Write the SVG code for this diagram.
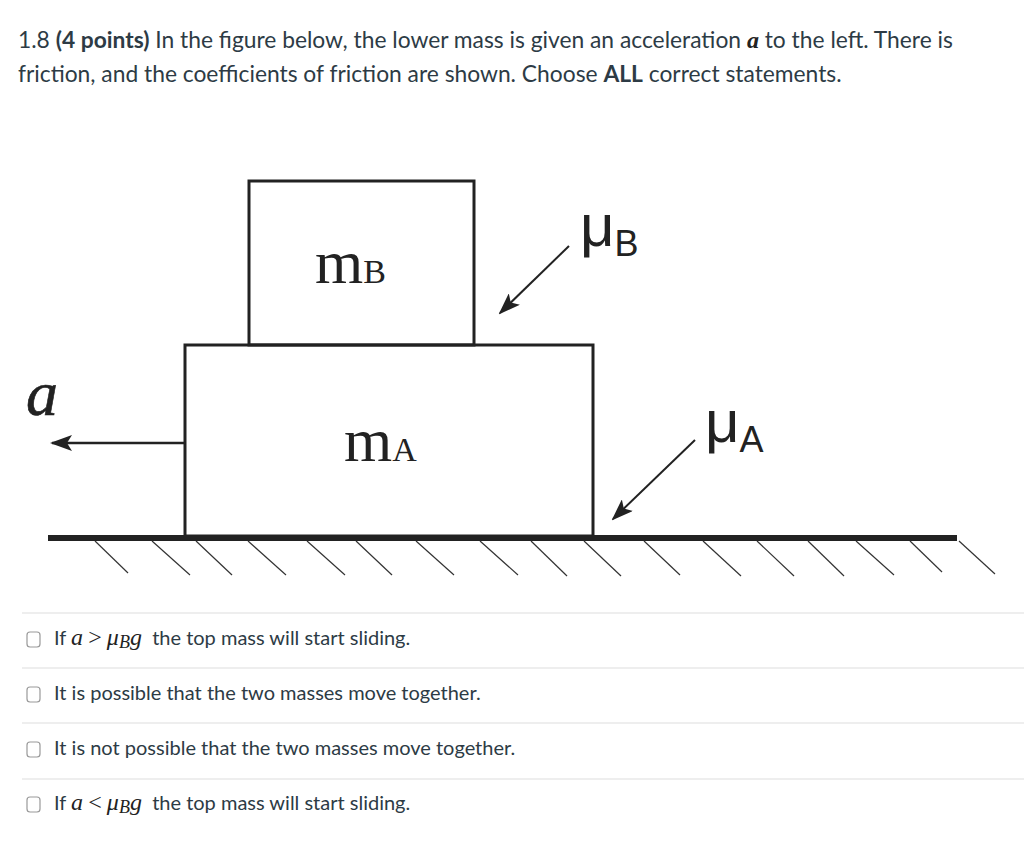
<svg xmlns="http://www.w3.org/2000/svg" width="1024" height="854" viewBox="0 0 1024 854">
<style>
.t{font-family:Lato,"Open Sans",sans-serif;fill:#2d3b45}
.q{font-size:22.8px}
.o{font-size:20px}
.box{fill:none;stroke:#222;stroke-width:3}
.h{stroke:#333;stroke-width:1.2}
.sep{stroke:#ddd;stroke-width:1}
.cb{fill:#fff;stroke:#999;stroke-width:1.2}
.m{font-family:"Liberation Serif",serif;fill:#222}
.mu{font-family:"Liberation Sans",sans-serif;fill:#222}
.mi{font-family:"Liberation Serif",serif;font-style:italic;fill:#222}
</style>
<defs>
<marker id="ah" markerWidth="22" markerHeight="16" refX="20" refY="8" orient="auto" markerUnits="userSpaceOnUse" viewBox="0 0 22 16"><path d="M0,0 L22,8 L0,16 L5,8 Z" fill="#222"/></marker>
</defs>
<rect width="1024" height="854" fill="#fff"/>
<text class="t q" x="18" y="48">1.8 <tspan font-weight="bold">(4 points)</tspan> In the figure below, the lower mass is given an acceleration <tspan class="mi" font-size="24" font-weight="bold">a</tspan> to the left. There is</text>
<text class="t q" x="18" y="82">friction, and the coefficients of friction are shown. Choose <tspan font-weight="bold">ALL</tspan> correct statements.</text>
<g id="ground">
<rect x="48" y="535" width="909" height="6" fill="#222"/>
<g class="h">
<line x1="95" y1="541" x2="128" y2="573"/><line x1="152" y1="541" x2="190" y2="575"/><line x1="196" y1="541" x2="232" y2="575"/><line x1="248" y1="541" x2="286" y2="575"/><line x1="307" y1="541" x2="345" y2="575"/><line x1="356" y1="541" x2="392" y2="575"/><line x1="416" y1="541" x2="454" y2="575"/><line x1="480" y1="541" x2="518" y2="575"/><line x1="531" y1="541" x2="567" y2="576"/><line x1="584" y1="541" x2="621" y2="576"/><line x1="644" y1="541" x2="680" y2="575"/><line x1="703" y1="541" x2="741" y2="576"/><line x1="757" y1="541" x2="794" y2="576"/><line x1="808" y1="541" x2="844" y2="576"/><line x1="856" y1="541" x2="894" y2="575"/><line x1="910" y1="541" x2="942" y2="572"/><line x1="959" y1="541" x2="995" y2="574"/>
</g>
</g>
<g id="massA"><rect class="box" x="185" y="345" width="408" height="191"/><text class="m" x="344" y="461" font-size="62">m<tspan font-size="34">A</tspan></text></g>
<g id="massB"><rect class="box" x="249" y="181" width="225" height="164"/><text class="m" x="315" y="283" font-size="62">m<tspan font-size="34">B</tspan></text></g>
<g id="labelA"><text class="mi" x="26" y="415" font-size="64" stroke="#222" stroke-width="0.6">a</text></g>
<g id="muB"><text class="mu" x="580" y="246" font-size="60">μ<tspan font-size="36" dy="10">B</tspan></text></g>
<g id="muA"><text class="mu" x="705" y="442" font-size="60">μ<tspan font-size="36" dy="10">A</tspan></text></g>
<g id="connectors" stroke="#222" stroke-width="2.5" fill="none">
<line x1="185" y1="443" x2="52" y2="443" marker-end="url(#ah)"/>
<line x1="569" y1="246" x2="500" y2="313" marker-end="url(#ah)" stroke-width="2"/>
<line x1="695" y1="440" x2="613" y2="519" marker-end="url(#ah)" stroke-width="2"/>
</g>
<g id="options">
<line class="sep" x1="22" y1="613" x2="1024" y2="613"/>
<line class="sep" x1="22" y1="668" x2="1024" y2="668"/>
<line class="sep" x1="22" y1="723" x2="1024" y2="723"/>
<line class="sep" x1="22" y1="779" x2="1024" y2="779"/>
<rect class="cb" x="27" y="632" width="13" height="15" rx="3"/>
<rect class="cb" x="27" y="687" width="13" height="15" rx="3"/>
<rect class="cb" x="27" y="742" width="13" height="15" rx="3"/>
<rect class="cb" x="27" y="797" width="13" height="15" rx="3"/>
<text class="t o" x="54" y="645" xml:space="preserve">If <tspan class="mi" font-size="24">a</tspan> <tspan class="m" font-size="24">&gt;</tspan> <tspan class="mi" font-size="24">μ<tspan font-size="18" dy="3">B</tspan><tspan dy="-3">g</tspan></tspan>  the top mass will start sliding.</text>
<text class="t o" x="54" y="700">It is possible that the two masses move together.</text>
<text class="t o" x="54" y="755">It is not possible that the two masses move together.</text>
<text class="t o" x="54" y="810" xml:space="preserve">If <tspan class="mi" font-size="24">a</tspan> <tspan class="m" font-size="24">&lt;</tspan> <tspan class="mi" font-size="24">μ<tspan font-size="18" dy="3">B</tspan><tspan dy="-3">g</tspan></tspan>  the top mass will start sliding.</text>
</g>
</svg>
